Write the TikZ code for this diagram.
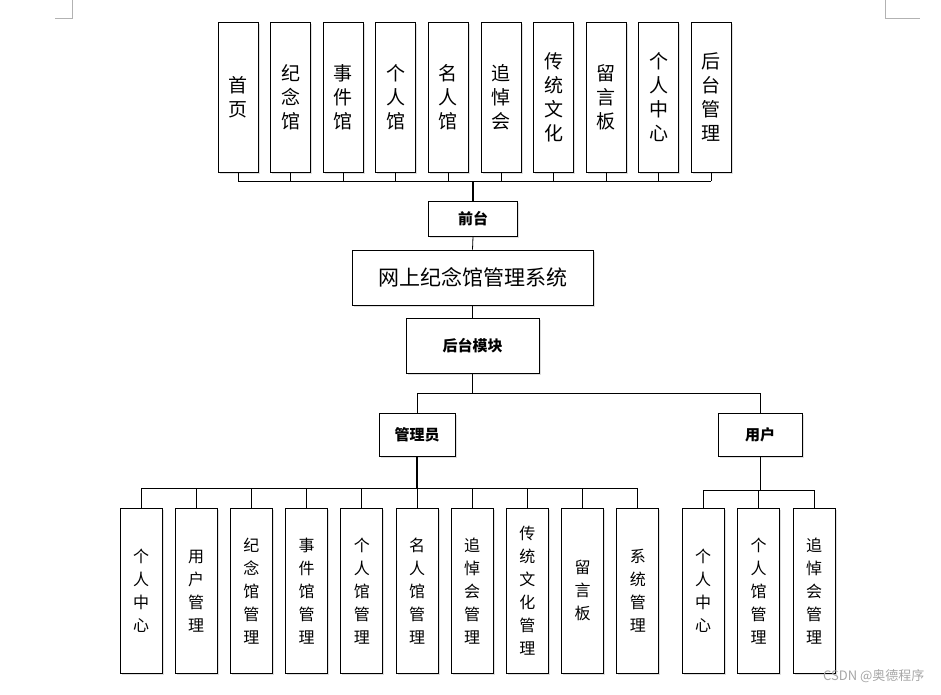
\documentclass[tikz,border=0pt]{standalone}
\usepackage{fontspec}
\newfontfamily\cjk{Noto Sans CJK SC}
\usetikzlibrary{shadows}
\begin{document}
\begin{tikzpicture}[x=1pt,y=-1pt,
  box/.style={draw,fill=white,thick,drop shadow={shadow xshift=1.5pt,shadow yshift=-1.5pt,opacity=0.25},inner sep=0pt,font=\cjk,align=center},
  tb/.style={box,minimum width=40pt,minimum height=150pt,font=\cjk\fontsize{19}{24}\selectfont},
  bb/.style={box,minimum width=42pt,minimum height=165pt,font=\cjk\fontsize{16}{23}\selectfont},
  hb/.style={box,font=\cjk\bfseries\fontsize{15}{18}\selectfont},
  ln/.style={line width=0.8pt}]
\useasboundingbox (0,0) rectangle (941,694);
\draw[gray!60] (72,0)--(72,18)--(55,18);
\draw[gray!60] (885,0)--(885,18)--(920,18);
% top
\foreach \t [count=\i] in {首\\页,纪\\念\\馆,事\\件\\馆,个\\人\\馆,名\\人\\馆,追\\悼\\会,传\\统\\文\\化,留\\言\\板,个\\人\\中\\心,后\\台\\管\\理}{
  \node[tb,anchor=north] (t\i) at ({238+(\i-1)*52.6},22) {\t};
  \draw[ln] (t\i.south)--(t\i.south|-0,181);
}
\draw[ln] (t1.south|-0,181)--(t10.south|-0,181);
\node[hb,minimum width=89pt,minimum height=35pt] (qt) at (473,218.5) {前台};
\draw[line width=1.5pt] (qt.north)--(473,181);
\node[box,minimum width=241pt,minimum height=55pt,font=\cjk\fontsize{21}{24}\selectfont] (sys) at (472.5,277.5) {网上纪念馆管理系统};
\draw[ln] (qt.south)--(sys.north);
\node[hb,minimum width=133pt,minimum height=55pt] (ht) at (472.5,345.5) {后台模块};
\draw[ln] (sys.south)--(ht.north);
\node[hb,minimum width=76pt,minimum height=43pt] (adm) at (417,434.5) {管理员};
\node[hb,minimum width=84pt,minimum height=43pt] (usr) at (760,434.5) {用户};
\coordinate (j) at (472.5,393);
\draw[ln] (ht.south)--(j);
\draw[ln] (adm.north)--(adm.north|-j)--(usr.north|-j)--(usr.north);
% admin children
\foreach \t [count=\i] in {个\\人\\中\\心,用\\户\\管\\理,纪\\念\\馆\\管\\理,事\\件\\馆\\管\\理,个\\人\\馆\\管\\理,名\\人\\馆\\管\\理,追\\悼\\会\\管\\理,传\\统\\文\\化\\管\\理,留\\言\\板,系\\统\\管\\理}{
  \node[bb,anchor=north] (a\i) at ({141+(\i-1)*55.2},508) {\t};
  \draw[ln] (a\i.north)--(a\i.north|-0,488);
}
\draw[ln] (a1.north|-0,488)--(a10.north|-0,488);
\draw[line width=1.5pt] (adm.south)--(adm.south|-0,488);
\foreach \t [count=\i] in {个\\人\\中\\心,个\\人\\馆\\管\\理,追\\悼\\会\\管\\理}{
  \node[bb,anchor=north] (u\i) at ({703+(\i-1)*55.5},508) {\t};
  \draw[ln] (u\i.north)--(u\i.north|-0,490);
}
\draw[ln] (u1.north|-0,490)--(u3.north|-0,490);
\draw[ln] (usr.south)--(usr.south|-0,490);
\node[font=\cjk\fontsize{13}{15}\selectfont,text=gray!70,anchor=east] (wm) at (928,676) {CSDN @奥德程序};
\end{tikzpicture}
\end{document}
